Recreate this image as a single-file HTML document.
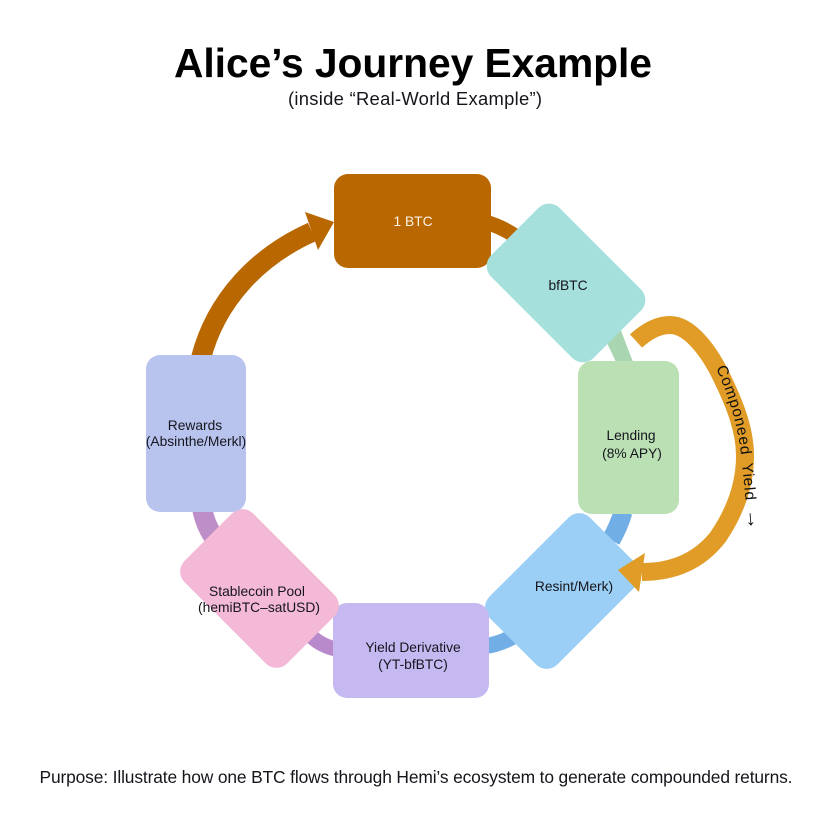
<!DOCTYPE html>
<html><head><meta charset="utf-8"><style>
html,body{margin:0;padding:0;background:#fff;width:828px;height:828px;overflow:hidden}
svg{display:block}
text{font-family:"Liberation Sans",sans-serif;fill:#15151c}
.l{font-size:13.8px;text-anchor:middle}
</style></head><body>
<svg width="828" height="828" viewBox="0 0 828 828" xmlns="http://www.w3.org/2000/svg">
<rect width="828" height="828" fill="#fff"/>
<text x="413" y="77" text-anchor="middle" font-size="40.8" font-weight="700" textLength="478" lengthAdjust="spacing" style="fill:#000">Alice’s Journey Example</text>
<text x="415" y="105" text-anchor="middle" font-size="18.4" textLength="254" lengthAdjust="spacing">(inside “Real-World Example”)</text>

<!-- ring segments -->
<path d="M201,358 C216,300 258,256 312,232" fill="none" stroke="#b96700" stroke-width="20"/>
<polygon points="334,222 305,212 318,250" fill="#b96700"/>
<path d="M485,222 Q503,227 518,238" fill="none" stroke="#b96700" stroke-width="15"/>
<polygon points="620,328 607,343 616,362 633,362" fill="#a9d5b1"/>
<path d="M623,512 Q619,526 611,540" fill="none" stroke="#72aee6" stroke-width="19"/>
<path d="M486,646 Q500,644 514,636" fill="none" stroke="#72aee6" stroke-width="16"/>
<path d="M336,649 Q322,646 312,637" fill="none" stroke="#b98acb" stroke-width="15"/>
<path d="M202,508 Q205,524 213,536" fill="none" stroke="#bd8ec8" stroke-width="20"/>

<!-- nodes -->
<rect x="334" y="174" width="157" height="94" rx="14" fill="#b96700"/>
<rect x="-72.5" y="-48.5" width="145" height="97" rx="15" transform="translate(566 283) rotate(45)" fill="#a5e0dd"/>
<rect x="578" y="361" width="101" height="153" rx="14" fill="#bbe0b4"/>
<rect x="-71" y="-48" width="142" height="96" rx="15" transform="translate(563 591) rotate(-45)" fill="#9ccff5"/>
<rect x="333" y="603" width="156" height="95" rx="14" fill="#c6b9f2"/>
<rect x="-72.5" y="-48.5" width="145" height="97" rx="15" transform="translate(259.5 588.5) rotate(45)" fill="#f3b9d6"/>
<rect x="146" y="355" width="100" height="157" rx="14" fill="#b8c4ee"/>

<!-- compounded arrow -->
<path d="M636,341 C647,331 658,325 670,325 C690,325 710,352 723,380 C735,405 745,430 745,456 C745,487 733,515 718,537 C700,560 675,572 642,572" fill="none" stroke="#e09c26" stroke-width="18"/>
<polygon points="618,570 645,553 639,592" fill="#e09c26"/>
<path id="cy" d="M716,368 C728,395 738,425 741,455 C744,480 746,505 749,545" fill="none"/>
<text font-size="15.5" letter-spacing="0.8" word-spacing="3" style="fill:#111"><textPath href="#cy">Componeed Yield <tspan font-size="21">→</tspan></textPath></text>

<!-- labels -->
<text class="l" x="413" y="226" style="fill:#fbf3e6">1 BTC</text>
<text class="l" x="568" y="290">bfBTC</text>
<text class="l" x="631" y="440">Lending</text>
<text class="l" x="632" y="458">(8% APY)</text>
<text class="l" x="574" y="591">Resint/Merk)</text>
<text class="l" x="413" y="652">Yield Derivative</text>
<text class="l" x="413" y="669">(YT-bfBTC)</text>
<text class="l" x="257" y="596">Stablecoin Pool</text>
<text class="l" x="259" y="612">(hemiBTC–satUSD)</text>
<text class="l" x="195" y="430">Rewards</text>
<text class="l" x="196" y="446">(Absinthe/Merkl)</text>
<text x="416" y="783" text-anchor="middle" font-size="17.4" textLength="753" lengthAdjust="spacing">Purpose: Illustrate how one BTC flows through Hemi’s ecosystem to generate compounded returns.</text>
</svg>
</body></html>
